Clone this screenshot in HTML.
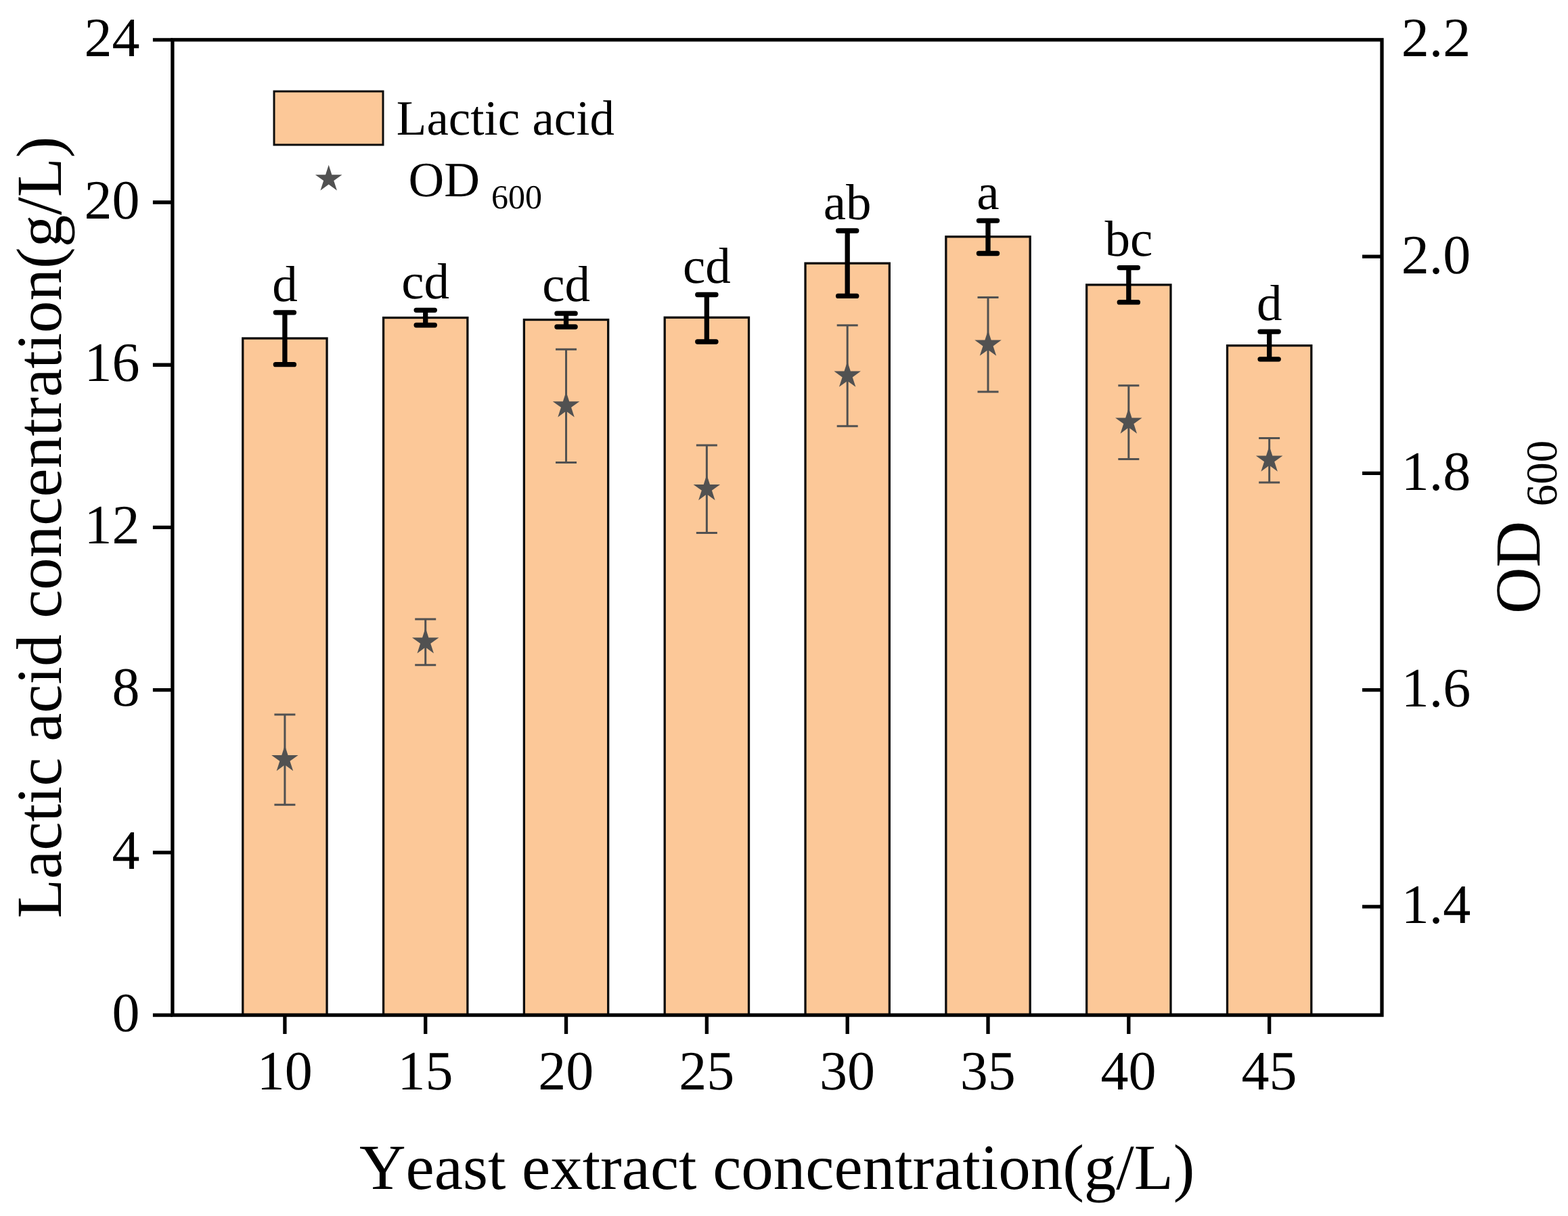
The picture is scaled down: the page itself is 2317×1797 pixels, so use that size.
<!DOCTYPE html>
<html lang="en">
<head>
<meta charset="utf-8">
<title>Lactic acid and OD600 vs yeast extract concentration</title>
<style>
html,body{margin:0;padding:0;background:#fff;}
body{width:2317px;height:1797px;overflow:hidden;}
svg{display:block;}
</style>
</head>
<body>
<svg width="2317" height="1797" viewBox="0 0 2317 1797" font-family="'Liberation Serif', serif" fill="#000" style="font-kerning:none;font-variant-ligatures:none;text-rendering:geometricPrecision">
<rect width="2317" height="1797" fill="#fff"/>
<rect x="358.75" y="500.00" width="124.30" height="1000.10" fill="#FCC898" stroke="#0c0c0c" stroke-width="3.3"/>
<rect x="566.57" y="469.50" width="124.30" height="1030.60" fill="#FCC898" stroke="#0c0c0c" stroke-width="3.3"/>
<rect x="774.39" y="472.50" width="124.30" height="1027.60" fill="#FCC898" stroke="#0c0c0c" stroke-width="3.3"/>
<rect x="982.21" y="469.20" width="124.30" height="1030.90" fill="#FCC898" stroke="#0c0c0c" stroke-width="3.3"/>
<rect x="1190.03" y="389.10" width="124.30" height="1111.00" fill="#FCC898" stroke="#0c0c0c" stroke-width="3.3"/>
<rect x="1397.85" y="349.80" width="124.30" height="1150.30" fill="#FCC898" stroke="#0c0c0c" stroke-width="3.3"/>
<rect x="1605.67" y="420.90" width="124.30" height="1079.20" fill="#FCC898" stroke="#0c0c0c" stroke-width="3.3"/>
<rect x="1813.49" y="510.70" width="124.30" height="989.40" fill="#FCC898" stroke="#0c0c0c" stroke-width="3.3"/>
<path d="M420.90,1056.00V1189.30M405.40,1056.00h31M405.40,1189.30h31" stroke="#515151" stroke-width="3" fill="none"/>
<path d="M420.90,1101.55 L425.57,1115.92 L440.68,1115.92 L428.46,1124.81 L433.13,1139.18 L420.90,1130.30 L408.67,1139.18 L413.34,1124.81 L401.12,1115.92 L416.23,1115.92Z" fill="#515151"/>
<path d="M628.72,915.10V982.70M613.22,915.10h31M613.22,982.70h31" stroke="#515151" stroke-width="3" fill="none"/>
<path d="M628.72,927.80 L633.39,942.17 L648.50,942.17 L636.28,951.06 L640.95,965.43 L628.72,956.55 L616.49,965.43 L621.16,951.06 L608.94,942.17 L624.05,942.17Z" fill="#515151"/>
<path d="M836.54,516.20V683.60M821.04,516.20h31M821.04,683.60h31" stroke="#515151" stroke-width="3" fill="none"/>
<path d="M836.54,578.80 L841.21,593.17 L856.32,593.17 L844.10,602.06 L848.77,616.43 L836.54,607.55 L824.31,616.43 L828.98,602.06 L816.76,593.17 L831.87,593.17Z" fill="#515151"/>
<path d="M1044.36,658.00V787.40M1028.86,658.00h31M1028.86,787.40h31" stroke="#515151" stroke-width="3" fill="none"/>
<path d="M1044.36,701.60 L1049.03,715.97 L1064.14,715.97 L1051.92,724.86 L1056.59,739.23 L1044.36,730.35 L1032.13,739.23 L1036.80,724.86 L1024.58,715.97 L1039.69,715.97Z" fill="#515151"/>
<path d="M1252.18,480.80V629.70M1236.68,480.80h31M1236.68,629.70h31" stroke="#515151" stroke-width="3" fill="none"/>
<path d="M1252.18,534.15 L1256.85,548.52 L1271.96,548.52 L1259.74,557.41 L1264.41,571.78 L1252.18,562.90 L1239.95,571.78 L1244.62,557.41 L1232.40,548.52 L1247.51,548.52Z" fill="#515151"/>
<path d="M1460.00,439.60V578.90M1444.50,439.60h31M1444.50,578.90h31" stroke="#515151" stroke-width="3" fill="none"/>
<path d="M1460.00,488.15 L1464.67,502.52 L1479.78,502.52 L1467.56,511.41 L1472.23,525.78 L1460.00,516.90 L1447.77,525.78 L1452.44,511.41 L1440.22,502.52 L1455.33,502.52Z" fill="#515151"/>
<path d="M1667.82,569.80V678.60M1652.32,569.80h31M1652.32,678.60h31" stroke="#515151" stroke-width="3" fill="none"/>
<path d="M1667.82,603.10 L1672.49,617.47 L1687.60,617.47 L1675.38,626.36 L1680.05,640.73 L1667.82,631.85 L1655.59,640.73 L1660.26,626.36 L1648.04,617.47 L1663.15,617.47Z" fill="#515151"/>
<path d="M1875.64,647.50V712.90M1860.14,647.50h31M1860.14,712.90h31" stroke="#515151" stroke-width="3" fill="none"/>
<path d="M1875.64,659.10 L1880.31,673.47 L1895.42,673.47 L1883.20,682.36 L1887.87,696.73 L1875.64,687.85 L1863.41,696.73 L1868.08,682.36 L1855.86,673.47 L1870.97,673.47Z" fill="#515151"/>
<path d="M420.90,461.80V538.70M407.30,461.80h27.2M407.30,538.70h27.2" stroke="#000" stroke-width="7.3" stroke-linecap="round" fill="none"/>
<path d="M628.72,458.30V480.50M615.12,458.30h27.2M615.12,480.50h27.2" stroke="#000" stroke-width="7.3" stroke-linecap="round" fill="none"/>
<path d="M836.54,463.20V483.00M822.94,463.20h27.2M822.94,483.00h27.2" stroke="#000" stroke-width="7.3" stroke-linecap="round" fill="none"/>
<path d="M1044.36,435.50V505.00M1030.76,435.50h27.2M1030.76,505.00h27.2" stroke="#000" stroke-width="7.3" stroke-linecap="round" fill="none"/>
<path d="M1252.18,341.00V437.40M1238.58,341.00h27.2M1238.58,437.40h27.2" stroke="#000" stroke-width="7.3" stroke-linecap="round" fill="none"/>
<path d="M1460.00,326.10V374.50M1446.40,326.10h27.2M1446.40,374.50h27.2" stroke="#000" stroke-width="7.3" stroke-linecap="round" fill="none"/>
<path d="M1667.82,395.60V446.70M1654.22,395.60h27.2M1654.22,446.70h27.2" stroke="#000" stroke-width="7.3" stroke-linecap="round" fill="none"/>
<path d="M1875.64,490.10V530.80M1862.04,490.10h27.2M1862.04,530.80h27.2" stroke="#000" stroke-width="7.3" stroke-linecap="round" fill="none"/>
<rect x="254.9" y="58.8" width="1787.1" height="1441.3" fill="none" stroke="#000" stroke-width="5.3"/>
<path d="M225.90,58.80H254.90M225.90,299.02H254.90M225.90,539.23H254.90M225.90,779.45H254.90M225.90,1019.67H254.90M225.90,1259.88H254.90M225.90,1500.10H254.90M2013.00,379.09H2042.00M2013.00,699.38H2042.00M2013.00,1019.67H2042.00M2013.00,1339.96H2042.00M420.90,1500.10V1528.10M628.72,1500.10V1528.10M836.54,1500.10V1528.10M1044.36,1500.10V1528.10M1252.18,1500.10V1528.10M1460.00,1500.10V1528.10M1667.82,1500.10V1528.10M1875.64,1500.10V1528.10" stroke="#000" stroke-width="5.3" fill="none"/>
<text x="206.40" y="82.50" font-size="82.0" text-anchor="end">24</text>
<text x="206.40" y="322.72" font-size="82.0" text-anchor="end">20</text>
<text x="206.40" y="562.93" font-size="82.0" text-anchor="end">16</text>
<text x="206.40" y="803.15" font-size="82.0" text-anchor="end">12</text>
<text x="206.40" y="1043.37" font-size="82.0" text-anchor="end">8</text>
<text x="206.40" y="1283.58" font-size="82.0" text-anchor="end">4</text>
<text x="206.40" y="1523.80" font-size="82.0" text-anchor="end">0</text>
<text x="2070.80" y="83.30" font-size="82.0">2.2</text>
<text x="2070.80" y="403.59" font-size="82.0">2.0</text>
<text x="2070.80" y="723.88" font-size="82.0">1.8</text>
<text x="2070.80" y="1044.17" font-size="82.0">1.6</text>
<text x="2070.80" y="1364.46" font-size="82.0">1.4</text>
<text x="420.70" y="1609.8" font-size="82.0" text-anchor="middle">10</text>
<text x="628.52" y="1609.8" font-size="82.0" text-anchor="middle">15</text>
<text x="836.34" y="1609.8" font-size="82.0" text-anchor="middle">20</text>
<text x="1044.16" y="1609.8" font-size="82.0" text-anchor="middle">25</text>
<text x="1251.98" y="1609.8" font-size="82.0" text-anchor="middle">30</text>
<text x="1459.80" y="1609.8" font-size="82.0" text-anchor="middle">35</text>
<text x="1667.62" y="1609.8" font-size="82.0" text-anchor="middle">40</text>
<text x="1875.44" y="1609.8" font-size="82.0" text-anchor="middle">45</text>
<text x="420.90" y="445.00" font-size="75.0" text-anchor="middle">d</text>
<text x="628.72" y="440.80" font-size="75.0" text-anchor="middle">cd</text>
<text x="836.54" y="445.00" font-size="75.0" text-anchor="middle">cd</text>
<text x="1044.36" y="417.50" font-size="75.0" text-anchor="middle">cd</text>
<text x="1252.18" y="323.60" font-size="75.0" text-anchor="middle">ab</text>
<text x="1460.00" y="308.90" font-size="75.0" text-anchor="middle">a</text>
<text x="1667.82" y="378.30" font-size="75.0" text-anchor="middle">bc</text>
<text x="1875.64" y="472.50" font-size="75.0" text-anchor="middle">d</text>
<text x="1148.2" y="1756.8" font-size="95.0" text-anchor="middle">Yeast extract concentration(g/L)</text>
<text transform="translate(90.3,779.3) rotate(-90)" font-size="95.0" text-anchor="middle">Lactic acid concentration(g/L)</text>
<text transform="translate(2274.7,907) rotate(-90)" font-size="95.0">OD<tspan font-size="65" dy="25.3" dx="21.5">600</tspan></text>
<rect x="405" y="135" width="161" height="79" fill="#FCC898" stroke="#0c0c0c" stroke-width="3"/>
<path d="M485.70,243.80 L490.37,258.17 L505.48,258.17 L493.26,267.06 L497.93,281.43 L485.70,272.55 L473.47,281.43 L478.14,267.06 L465.92,258.17 L481.03,258.17Z" fill="#515151"/>
<text x="585.8" y="199.3" font-size="73.0">Lactic acid</text>
<text x="603.5" y="289.6" font-size="73.0">OD<tspan font-size="50" dy="18.3" dx="17">600</tspan></text>
</svg>
</body>
</html>
